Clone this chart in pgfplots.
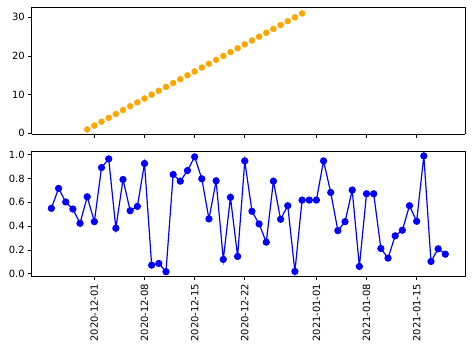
\documentclass[border=0pt]{standalone}
\usepackage{pgfplots}
\pgfplotsset{compat=1.18}
\usepackage{fontspec}
\setmainfont{DejaVu Sans}
\definecolor{mplorange}{HTML}{FFA500}
\definecolor{mplblue}{HTML}{0000FF}
\begin{document}
\begin{tikzpicture}
\useasboundingbox (-31.7bp,7.3bp) rectangle (442.3bp,-345.7bp);
\pgfplotsset{
  every axis/.append style={
    scale only axis,
    width=433.3bp,
    xmin=-8.75, xmax=51.75,
    xtick={0,7,14,21,31,38,45},
    axis x line*=bottom, axis y line*=left,
    tick align=outside,
    major tick length=3.5bp,
    tick style={black, line width=0.6pt},
    axis line style={black, line width=0.6pt},
    /pgf/number format/assume math mode=true,
    tick label style={font=\fontsize{10}{12}\selectfont, black},
    clip=false,
  }
}
\begin{axis}[
  at={(0,0)}, anchor=north west,
  height=127bp,
  ymin=-0.26, ymax=32.59,
  ytick={0,10,20,30},
  xticklabels={},
]
\draw[black, line width=0.6pt] (rel axis cs:0,1) -- (rel axis cs:1,1) -- (rel axis cs:1,0);
\addplot[only marks, mark=*, mark size=3bp, color=mplorange] coordinates {
(-1,1)(0,2)(1,3)(2,4)(3,5)(4,6)(5,7)(6,8)(7,9)(8,10)(9,11)(10,12)(11,13)(12,14)(13,15)(14,16)(15,17)(16,18)(17,19)(18,20)(19,21)(20,22)(21,23)(22,24)(23,25)(24,26)(25,27)(26,28)(27,29)(28,30)(29,31)
};
\end{axis}
\begin{axis}[
  at={(0,-143.7bp)}, anchor=north west,
  height=125.7bp,
  ymin=-0.025, ymax=1.03,
  ytick={0,0.2,0.4,0.6,0.8,1.0},
  yticklabel style={/pgf/number format/.cd, fixed, fixed zerofill, precision=1},
  xticklabels={2020-12-01,2020-12-08,2020-12-15,2020-12-22,2021-01-01,2021-01-08,2021-01-15},
  xticklabel style={rotate=90, anchor=east},
]
\draw[black, line width=0.6pt] (rel axis cs:0,1) -- (rel axis cs:1,1) -- (rel axis cs:1,0);
\addplot[mplblue, line width=1.2pt, mark=*, mark size=3bp, mark options={fill=mplblue}] coordinates {
(-6,0.549)(-5,0.716)(-4,0.602)(-3,0.543)(-2,0.423)(-1,0.646)(0,0.437)(1,0.891)(2,0.964)(3,0.382)
(4,0.791)(5,0.529)(6,0.565)(7,0.925)(8,0.072)(9,0.086)(10,0.017)(11,0.833)(12,0.777)(13,0.866)
(14,0.981)(15,0.797)(16,0.460)(17,0.780)(18,0.120)(19,0.641)(20,0.145)(21,0.947)(22,0.524)(23,0.418)
(24,0.265)(25,0.777)(26,0.457)(27,0.571)(28,0.019)(29,0.618)(30,0.618)(31,0.618)(32,0.947)(33,0.682)
(34,0.362)(35,0.437)(36,0.702)(37,0.061)(38,0.671)(39,0.671)(40,0.212)(41,0.131)(42,0.318)(43,0.365)
(44,0.571)(45,0.440)(46,0.989)(47,0.103)(48,0.209)(49,0.164)
};
\end{axis}
\end{tikzpicture}
\end{document}
